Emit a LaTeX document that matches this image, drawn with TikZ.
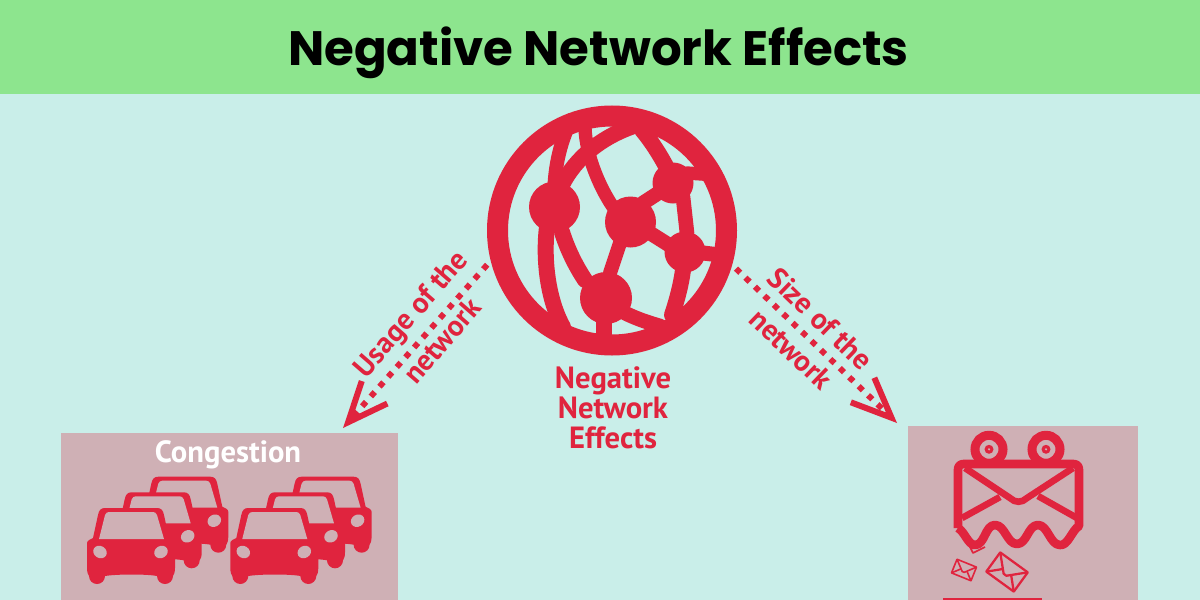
\documentclass[tikz,border=0pt]{standalone}
\usepackage{fontspec}
\setmainfont{PT Sans}
\newfontfamily\titlefont{Poppins}
\usetikzlibrary{arrows.meta}

\definecolor{netred}{RGB}{224,36,62}
\definecolor{paleteal}{RGB}{201,238,233}
\definecolor{headgreen}{RGB}{141,229,142}
\definecolor{boxrose}{RGB}{207,176,181}

\tikzset{
  panel/.style={fill=boxrose,inner sep=0pt,outer sep=0pt},
  linkline/.style={draw=netred,line width=4.4pt,dash pattern=on 4.4pt off 5.4pt,shorten <=4pt,
    -{Straight Barb[length=30pt,width=25.5pt,line width=4.5pt,color=netred]}},
  linklabel/.style={text=netred,font=\bfseries\fontsize{22}{31.5}\selectfont,align=center,inner sep=0pt},
  strand/.style={draw=netred,line width=#1,line cap=round},
  hub/.style={fill=netred,draw=none},
  monsterline/.style={draw=netred,line width=#1,line join=round},
  car/.pic={
    \path [fill=netred] (0,35) .. controls (0,33) and (3,31) .. (6,30) -- (11,7) .. controls (12,2) and (14,0) .. (18,0)
      -- (70,0) .. controls (74,0) and (76,2) .. (77,7) -- (82,30) .. controls (85,31) and (88,33) .. (88,35)
      -- (88,60) .. controls (88,64) and (87,67) .. (86,68) arc (0:180:8) .. controls (60,66) and (30,66) .. (18,68)
      arc (0:180:8) .. controls (1,67) and (0,64) .. (0,60) -- cycle;
    \path [fill=boxrose] (12,31) -- (18,7) .. controls (19,5) and (20,4) .. (22,4) -- (66,4)
      .. controls (68,4) and (69,5) .. (70,7) -- (77,31) -- cycle;
    \path [fill=boxrose] (13,44) ellipse [x radius=7,y radius=6,rotate=30];
    \path [fill=boxrose] (74,44) ellipse [x radius=7,y radius=6,rotate=-30];
  },
  letter/.pic={
    \draw [draw=netred,line width=#1,line join=round] (-1,-0.7) -- (1,-0.7) -- (1,0.7) -- (-1,0.7) -- cycle;
    \draw [draw=netred,line width=#1,line join=round] (-1,-0.7) -- (-0.1,0.2) -- (0.1,0.2) -- (1,-0.7);
    \draw [draw=netred,line width=#1] (-1,0.7) -- (-0.3,0) (1,0.7) -- (0.3,0);
  }
}

\begin{document}
\begin{tikzpicture}[x=0.75pt,y=0.75pt,yscale=-1,xscale=1]
\useasboundingbox (0,0) rectangle (1200,600);

%Shape: Rectangle
\fill [paleteal] (0,0) rectangle (1200,600);
\fill [headgreen] (0,0) rectangle (1200,94);

% Text Node
\node (title) at (598.5,53) [inner sep=0pt] {\titlefont\bfseries\fontsize{36.2}{44}\selectfont Negative Network Effects};

%Shape: Panels
\node (carpanel) at (229.5,516.5) [panel,minimum width=252.75pt,minimum height=125.25pt] {};
\node (mailpanel) at (1023,513) [panel,minimum width=172.5pt,minimum height=130.5pt] {};
\fill [netred] (943,598) rectangle (1042,600);

%Shape: Globe
\node (globe) at (612,230.5) [circle,draw=netred,line width=15.75pt,minimum size=171.75pt,inner sep=0pt] {};
\draw [strand=10.5pt] (571,120) .. controls (559,145) and (554,170) .. (554,200);
\draw [strand=12pt] (547,227) .. controls (543,260) and (548,300) .. (563,327);
\draw [strand=10pt] (585,122) .. controls (584,150) and (598,185) .. (613,207);
\draw [strand=12pt] (562,232) .. controls (567,248) and (575,265) .. (585,280);
\draw [strand=12pt] (563,183) .. controls (575,160) and (600,136) .. (640,124);
\draw [strand=12pt] (642,130) .. controls (652,142) and (660,155) .. (667,168);
\draw [strand=11pt] (643,203) -- (663,190);
\draw [strand=11pt] (650,233) -- (677,250);
\draw [strand=11pt] (683,197) -- (687,233);
\draw [strand=10pt] (687,173) -- (716,175);
\draw [strand=11.25pt] (703,253) -- (720,255);
\draw [strand=12pt] (683,270) .. controls (681,285) and (677,300) .. (672,315);
\draw [strand=12pt] (604,320) -- (604,342);
\draw [strand=11pt] (625,313) .. controls (635,318) and (646,322) .. (660,326);
\draw [strand=10.5pt] (620,243) -- (610,273);
\fill [hub] (554.5,207) circle (25.5);
\fill [hub] (630.5,222) circle (25.5);
\fill [hub] (673,183) circle (20.5);
\fill [hub] (685,252) circle (20.5);
\fill [hub] (606,298) circle (26);

% Text Node
\node (globelabel) at (613,408) [text=netred,font=\bfseries\fontsize{23}{22.5}\selectfont,align=center,inner sep=0pt] {Negative\\Network\\Effects};

%Straight Lines
\coordinate (usagetip) at (343,428);
\coordinate (sizetip) at (897,423);
\draw [linkline] (globe.194) -- (usagetip);
\draw [linkline] (globe.-16.6) -- (sizetip);

% Text Node
\node (usagelabel) at (426,327) [linklabel,rotate=49] {Usage of the\\network};
\node (sizelabel) at (806,334) [linklabel,rotate=-44] {Size of the\\network};
\node (congestion) at (228,455) [text=white,font=\bfseries\fontsize{23}{24}\selectfont,inner sep=0pt] {Congestion};

%Shape: Cars
\foreach \groupx in {0,143.3}{
  \pic [transform shape] at (87+\groupx+53.3,508-31.3) {car};
  \pic [transform shape] at (87+\groupx+26.7,508-15.7) {car};
  \pic [transform shape] at (87+\groupx,508) {car};
}

%Shape: Mail monster
\foreach \eyex in {989,1046}{
  \draw [netred,line width=6.75pt] (\eyex,449.3) circle (14);
  \fill [netred] (\eyex,449.3) circle (4.5);
  \fill [boxrose] (\eyex,449.3) circle (1.2);
}
\draw [monsterline=6.5pt] (958,528) -- (958,470) .. controls (958,466) and (960,464) .. (964,464) -- (1073,464)
  .. controls (1077,464) and (1079,466) .. (1079,470) -- (1079,526)
  .. controls (1072,530) and (1068,546) .. (1060,545) .. controls (1050,545) and (1048,525) .. (1038,525)
  .. controls (1028,525) and (1027,544) .. (1017,544) .. controls (1007,544) and (1005,525) .. (995,525)
  .. controls (985,525) and (985,545) .. (975,545) .. controls (968,545) and (965,532) .. (958,528);
\draw [monsterline=5pt] (965,468) -- (1010,498) .. controls (1015,503) and (1022,503) .. (1027,498) -- (1073,468);
\draw [monsterline=5pt] (962,518) -- (1000,497);
\draw [monsterline=5pt] (1077,518) -- (1038,496);

%Shape: Falling letters
\draw [monsterline=1.2pt] (969,545) -- (973,553) -- (985,547);
\draw [monsterline=1.2pt] (971,549) -- (978,546);
\pic [transform shape] at (964,570) [rotate=22,scale=10.5] {letter=1.2pt};
\pic [transform shape] at (1007,572) [rotate=36,scale=17] {letter=1.7pt};

\end{tikzpicture}
\end{document}
